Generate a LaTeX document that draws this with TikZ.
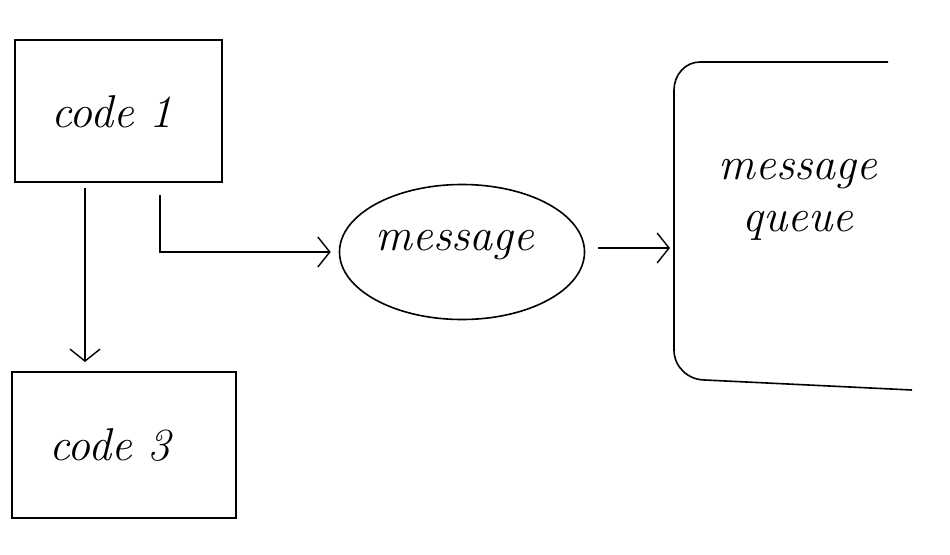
\documentclass[tikz,border=0pt]{standalone}
\usetikzlibrary{arrows.meta,shapes.geometric}
\begin{document}
\begin{tikzpicture}[x=1pt,y=-1pt,
  box/.style={draw,line width=1.6pt,inner sep=0pt},
  lbl/.style={font=\fontsize{46}{52}\selectfont\itshape},
  arr/.style={line width=1.4pt,-{Straight Barb[length=12pt,width=30pt,line width=1.4pt]}}]
\useasboundingbox (0,0) rectangle (950,554);
\node[box,minimum width=207pt,minimum height=142pt] (c1) at (118.5,111) {};
\node[lbl] at (112,112) {code 1};
\node[box,minimum width=224pt,minimum height=146pt] (c3) at (124,445) {};
\node[lbl] at (110,445) {code 3};
\node[box,ellipse,minimum width=245pt,minimum height=135pt] (msg) at (462,252) {};
\node[lbl] at (455,245) {message};
\draw[line width=1.6pt] (888,62) -- (700,62) to[out=180,in=90] (674,90) -- (674,350) to[out=-90,in=180] (705,380) -- (912,390);
\node[lbl,align=center] (q) at (798,200) {message\\queue};
\coordinate (a1) at (85,188);
\coordinate (a1e) at (85,362);
\draw[arr] (a1) -- (a1e);
\coordinate (b1) at (160,195);
\draw[arr] (b1) |- ([xshift=-8pt]msg.west);
\coordinate (m1) at (598,248);
\draw[arr] (m1) -- (670,248);
\end{tikzpicture}
\end{document}
